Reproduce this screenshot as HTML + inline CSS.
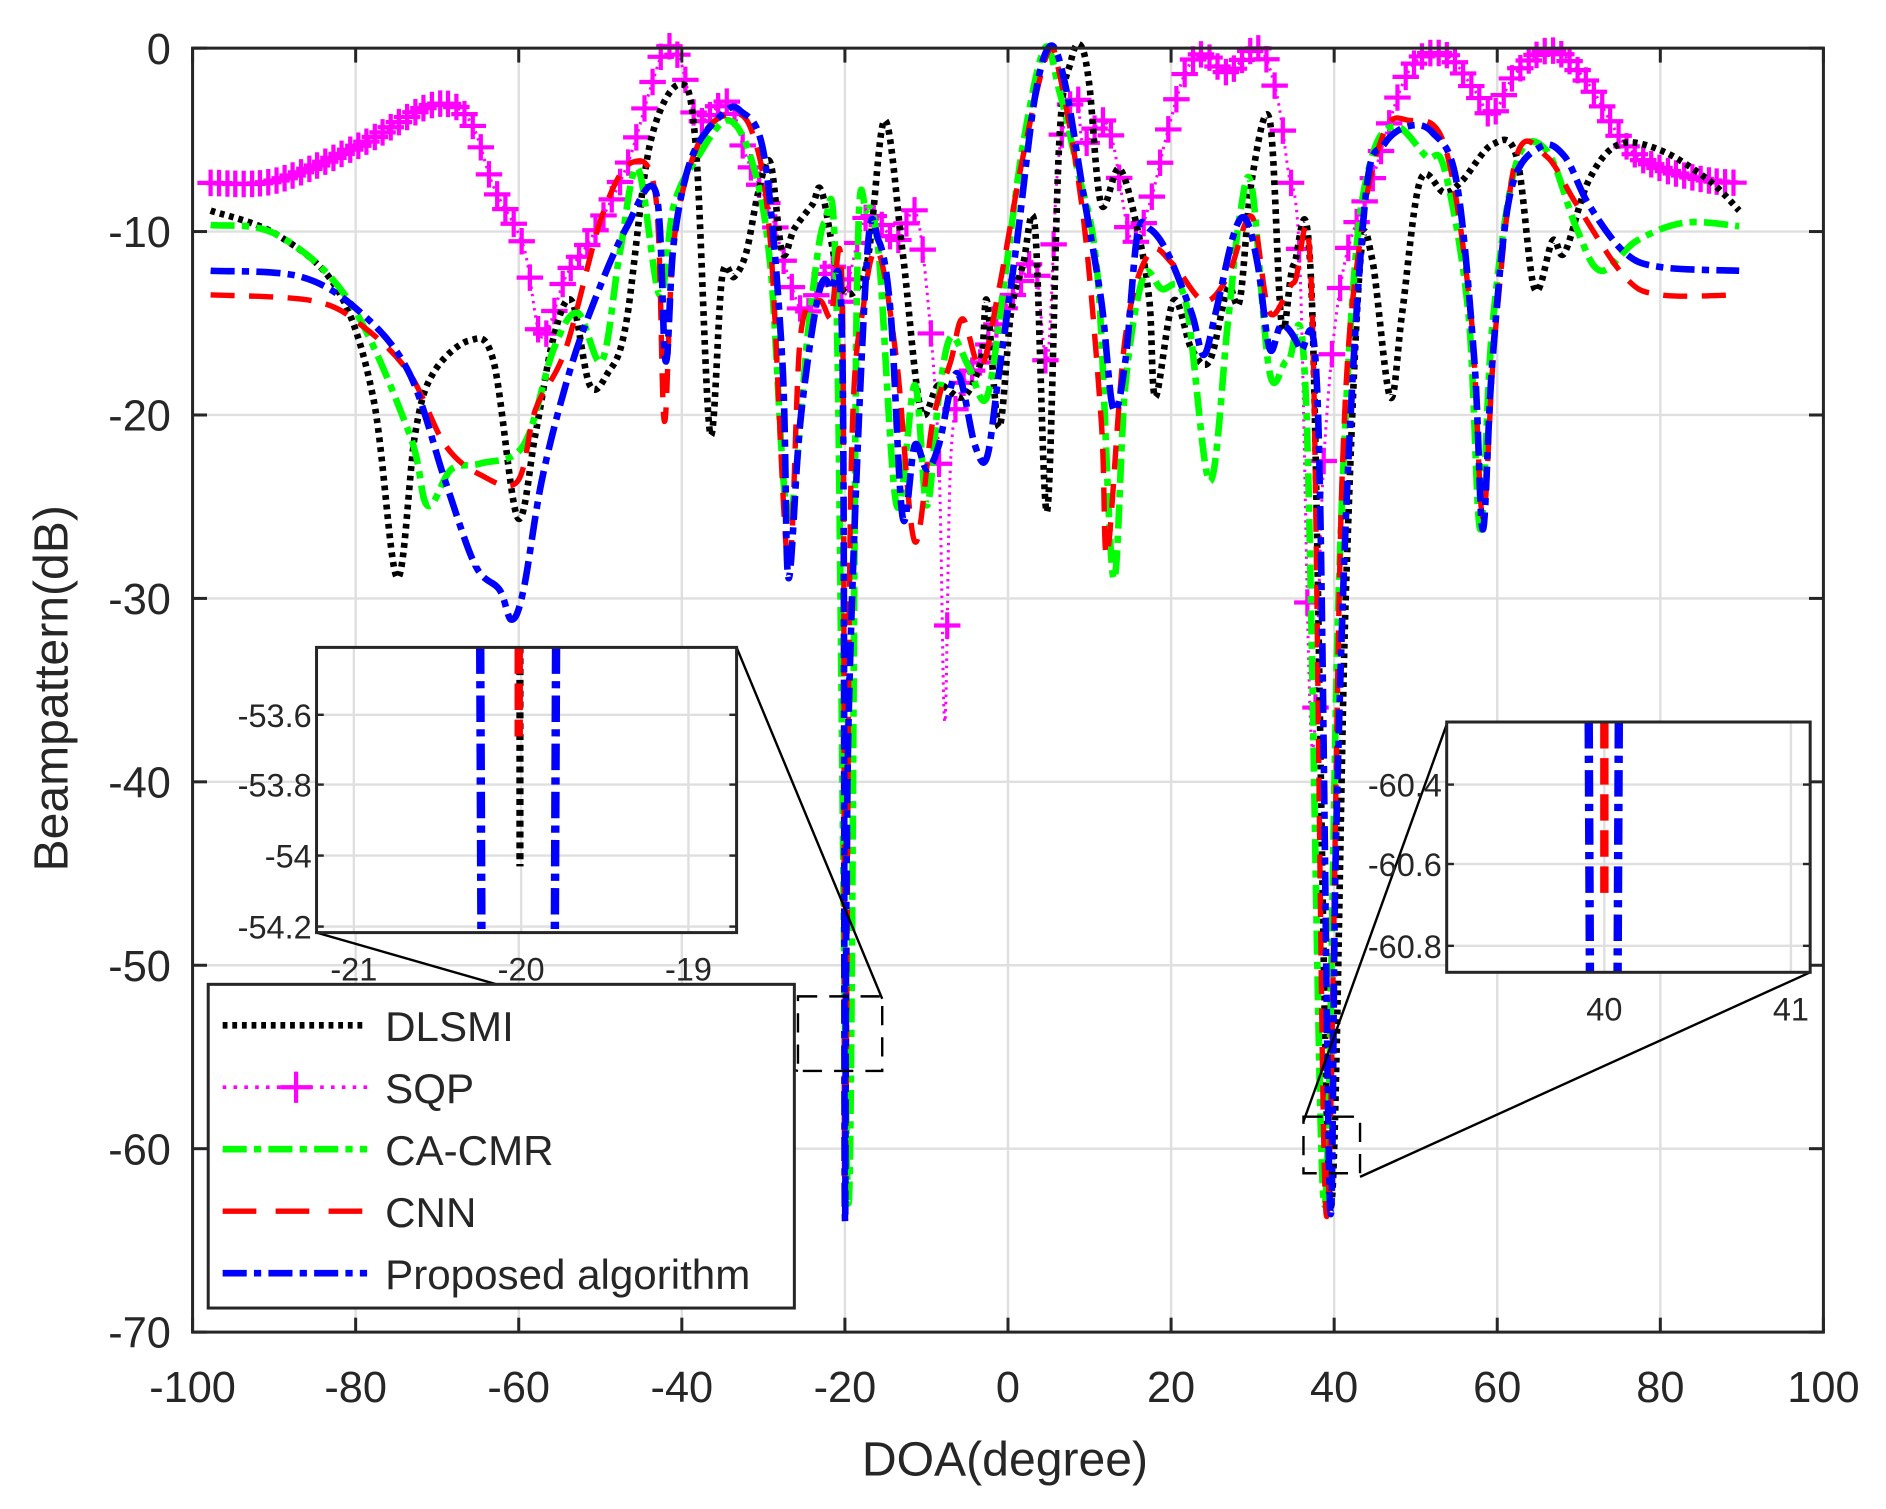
<!DOCTYPE html>
<html><head><meta charset="utf-8"><style>
html,body{margin:0;padding:0;background:#fff;}
svg{display:block;}
text{font-family:"Liberation Sans",sans-serif;fill:#262626;}
</style></head><body>
<svg id="s" width="1886" height="1509" viewBox="0 0 1567 1254" preserveAspectRatio="none" xmlns="http://www.w3.org/2000/svg">
<rect width="1567" height="1254" fill="#fff"/>
<g id="grid" stroke="#dfdfdf" stroke-width="2"></g>
<g id="curves" fill="none"></g>
<g id="axes"></g>
</svg>
<script>
var NS="http://www.w3.org/2000/svg";
function el(p,t,a,txt){var e=document.createElementNS(NS,t);for(var k in a)e.setAttribute(k,a[k]);if(txt!==undefined)e.textContent=txt;p.appendChild(e);return e;}
var s=document.getElementById('s'),G=document.getElementById('grid'),C=document.getElementById('curves'),A=document.getElementById('axes');
var L=160,R=1515,T=40,B=1107;
function X(v){return L+(v+100)/200*(R-L);} function Y(v){return T-v/70*(B-T);}
for(var v=-80;v<=80;v+=20){el(G,'line',{x1:X(v),x2:X(v),y1:T,y2:B});}
for(var v=-60;v<=-10;v+=10){el(G,'line',{x1:L,x2:R,y1:Y(v),y2:Y(v)});}
function path(pts){var d='M'+pts[0][0]+','+pts[0][1];for(var i=0;i<pts.length-1;i++){var p0=pts[i-1]||pts[i],p1=pts[i],p2=pts[i+1],p3=pts[i+2]||p2;var c1=[p1[0]+(p2[0]-p0[0])/6,p1[1]+(p2[1]-p0[1])/6],c2=[p2[0]-(p3[0]-p1[0])/6,p2[1]-(p3[1]-p1[1])/6];d+='C'+c1+' '+c2+' '+p2;}return d;}
function P(a){var r=[];for(var i=0;i<a.length;i+=2)r.push([a[i],a[i+1]]);return r;}
var black=P([175,175,230,195,280,240,310,330,330,480,345,360,360,310,390,283,410,300,430,430,445,360,460,280,475,250,490,320,505,310,520,270,540,120,565,70,578,120,590,360,600,230,610,230,620,210,630,160,640,135,650,210,660,190,675,170,683,160,700,240,720,220,735,100,750,210,765,340,780,320,800,330,815,300,820,250,830,355,840,260,850,220,860,190,870,425,880,120,890,50,898,38,905,70,915,170,930,140,945,190,955,250,960,330,975,250,990,290,1005,300,1020,240,1030,250,1040,150,1055,100,1065,270,1075,220,1090,250,1105,1000,1118,500,1130,220,1140,215,1155,330,1165,260,1180,150,1200,160,1215,150,1240,120,1260,130,1275,240,1290,200,1300,210,1320,150,1345,120,1380,125,1420,150,1445,175]);
var mag=P([175,152,230,150,300,120,360,87,390,100,410,155,435,205,450,280,470,230,490,200,520,140,540,75,553,40,565,50,580,100,605,85,620,130,640,175,655,230,670,260,690,220,700,250,720,180,745,200,760,175,770,240,780,380,785,600,790,380,800,320,815,300,830,265,845,240,860,220,870,300,878,150,885,100,895,80,900,120,915,100,925,120,940,200,955,170,970,110,985,60,1000,45,1020,60,1045,40,1060,75,1070,140,1080,220,1090,620,1100,380,1115,230,1140,150,1170,60,1200,45,1225,75,1240,95,1260,60,1290,42,1320,70,1350,120,1380,140,1420,150,1445,152]);
var green=P([175,187,230,195,290,250,340,360,355,420,375,390,400,385,435,370,460,290,480,260,500,300,515,210,530,140,548,245,560,170,580,130,605,100,625,135,640,220,655,430,672,270,685,185,695,250,705,1000,712,240,720,175,730,210,745,420,760,320,770,420,780,330,790,280,805,305,820,330,835,230,850,120,868,40,880,75,895,140,912,230,925,480,935,320,950,230,965,240,985,250,1005,400,1020,270,1030,180,1040,155,1055,310,1070,300,1085,330,1100,1000,1112,500,1125,230,1140,130,1160,105,1185,130,1200,140,1220,260,1230,440,1240,270,1260,135,1285,125,1310,190,1330,225,1360,200,1400,185,1445,188]);
var red=P([175,245,260,250,300,270,340,310,370,370,400,395,430,400,445,340,470,290,500,180,525,135,545,165,552,350,560,200,580,120,605,95,625,110,640,200,655,470,665,280,680,250,690,265,700,260,702,1010,707,400,718,250,730,210,745,300,760,450,775,350,790,300,800,265,815,305,830,240,850,130,870,45,880,60,900,180,915,350,920,460,935,280,955,210,975,220,1000,250,1020,230,1040,180,1055,260,1075,235,1090,250,1102,1010,1115,400,1130,200,1150,110,1170,100,1200,120,1222,260,1232,430,1242,280,1260,130,1285,130,1310,170,1350,230,1380,245,1445,245]);
var blue=P([175,225,250,230,300,260,340,310,370,400,395,470,415,490,425,515,435,490,450,400,470,320,490,260,520,190,545,160,553,300,560,200,575,130,600,95,615,92,635,130,650,300,655,480,665,350,680,245,690,240,700,300,702,1010,705,600,720,220,730,200,740,260,750,430,760,370,770,390,780,370,795,310,810,370,820,380,830,310,845,200,860,80,873,38,885,70,900,160,915,250,925,340,935,300,945,195,955,190,970,210,990,260,1000,295,1010,260,1025,195,1035,182,1045,220,1055,290,1065,270,1080,290,1095,340,1105,1000,1110,700,1120,390,1135,160,1150,120,1170,105,1190,110,1210,150,1225,300,1232,440,1240,300,1255,160,1280,122,1300,130,1320,170,1350,210,1380,222,1445,225]);
var mp=el(C,'path',{d:path(mag),stroke:'#ff00ff','stroke-width':2.5,'stroke-dasharray':'2 4'});
var len=mp.getTotalLength(),mk='',nx=175;for(var l=0;l<=len;l+=0.5){var q=mp.getPointAtLength(l);if(q.x>=nx){mk+='M'+(q.x-11)+','+q.y+'h22M'+q.x+','+(q.y-11)+'v22';nx+=6.8;}}
el(C,'path',{d:mk,stroke:'#ff00ff','stroke-width':3.5});
el(C,'path',{d:path(black),stroke:'#000','stroke-width':5.5,'stroke-dasharray':'4 4'});
el(C,'path',{d:path(green),stroke:'#00ff00','stroke-width':5.5,'stroke-dasharray':'20 6 6 6'});
el(C,'path',{d:path(red),stroke:'#ff0000','stroke-width':4.5,'stroke-dasharray':'20 12'});
el(C,'path',{d:path(blue),stroke:'#0000ff','stroke-width':5.5,'stroke-dasharray':'20 6 6 6'});
el(A,'rect',{x:L,y:T,width:R-L,height:B-T,fill:'none',stroke:'#262626','stroke-width':2.5});
for(var v=-100;v<=100;v+=20){var x=X(v);el(A,'line',{x1:x,x2:x,y1:B,y2:B-12,stroke:'#262626','stroke-width':2.5});el(A,'line',{x1:x,x2:x,y1:T,y2:T+12,stroke:'#262626','stroke-width':2.5});el(A,'text',{x:x,y:B+58,'font-size':36,'text-anchor':'middle'},v);}
for(var v=-70;v<=0;v+=10){var y=Y(v);el(A,'line',{x1:L,x2:L+12,y1:y,y2:y,stroke:'#262626','stroke-width':2.5});el(A,'line',{x1:R,x2:R-12,y1:y,y2:y,stroke:'#262626','stroke-width':2.5});el(A,'text',{x:L-18,y:y+13,'font-size':36,'text-anchor':'end'},v);}
el(A,'text',{x:835,y:1226,'font-size':40,'text-anchor':'middle'},'DOA(degree)');
el(A,'text',{x:0,y:0,'font-size':40,'text-anchor':'middle',transform:'translate(56,572) rotate(-90)'},'Beampattern(dB)');
el(A,'rect',{x:663,y:828,width:70,height:62,fill:'none',stroke:'#000','stroke-width':2,'stroke-dasharray':'16 10'});
el(A,'rect',{x:1083,y:928,width:47,height:47,fill:'none',stroke:'#000','stroke-width':2,'stroke-dasharray':'16 10'});
el(A,'line',{x1:612,y1:538,x2:733,y2:830,stroke:'#000','stroke-width':2});
el(A,'line',{x1:263,y1:775,x2:663,y2:890,stroke:'#000','stroke-width':2});
el(A,'line',{x1:1083,y1:932,x2:1202,y2:602,stroke:'#000','stroke-width':2});
el(A,'line',{x1:1130,y1:978,x2:1504,y2:808,stroke:'#000','stroke-width':2});
function inset(x0,y0,x1,y1,xt,yt,draw){el(A,'rect',{x:x0,y:y0,width:x1-x0,height:y1-y0,fill:'#fff',stroke:'none'});
xt.forEach(function(t){el(A,'line',{x1:t[0],x2:t[0],y1:y0,y2:y1,stroke:'#dfdfdf','stroke-width':2});el(A,'text',{x:t[0],y:y1+40,'font-size':27,'text-anchor':'middle'},t[1]);});
yt.forEach(function(t){el(A,'line',{x1:x0,x2:x1,y1:t[0],y2:t[0],stroke:'#dfdfdf','stroke-width':2});el(A,'line',{x1:x0,x2:x0+6,y1:t[0],y2:t[0],stroke:'#262626','stroke-width':2});el(A,'line',{x1:x1,x2:x1-6,y1:t[0],y2:t[0],stroke:'#262626','stroke-width':2});el(A,'text',{x:x0-4,y:t[0]+10,'font-size':27,'text-anchor':'end'},t[1]);});
draw();el(A,'rect',{x:x0,y:y0,width:x1-x0,height:y1-y0,fill:'none',stroke:'#262626','stroke-width':2.5});}
inset(263,538,612,775,[[294,'-21'],[433,'-20'],[572,'-19']],[[594,'-53.6'],[652,'-53.8'],[711,'-54'],[770,'-54.2']],function(){
el(A,'line',{x1:432,x2:432,y1:538,y2:720,stroke:'#000','stroke-width':6,'stroke-dasharray':'5 4'});
el(A,'line',{x1:431,x2:431,y1:538,y2:612,stroke:'#f00','stroke-width':7,'stroke-dasharray':'22 8'});
el(A,'line',{x1:399,x2:400,y1:538,y2:775,stroke:'#00f','stroke-width':7,'stroke-dasharray':'22 6 6 6'});
el(A,'line',{x1:462,x2:461,y1:538,y2:775,stroke:'#00f','stroke-width':7,'stroke-dasharray':'22 6 6 6'});});
inset(1202,600,1504,808,[[1333,'40'],[1488,'41']],[[652,'-60.4'],[718,'-60.6'],[786,'-60.8']],function(){
el(A,'line',{x1:1333,x2:1333,y1:600,y2:745,stroke:'#f00','stroke-width':7,'stroke-dasharray':'22 8'});
el(A,'line',{x1:1320,x2:1321,y1:600,y2:808,stroke:'#00f','stroke-width':7,'stroke-dasharray':'22 6 6 6'});
el(A,'line',{x1:1345,x2:1344,y1:600,y2:808,stroke:'#00f','stroke-width':7,'stroke-dasharray':'22 6 6 6'});});
el(A,'rect',{x:173,y:818,width:487,height:269,fill:'#fff',stroke:'#262626','stroke-width':2.5});
var lg=[['DLSMI','#000','4 4',5.5],['SQP','#ff00ff','3 6',3],['CA-CMR','#00ff00','20 6 6 6',5.5],['CNN','#ff0000','28 16',4.5],['Proposed algorithm','#0000ff','20 6 6 6',5.5]];
lg.forEach(function(e,i){var y=852+i*51.5;el(A,'line',{x1:185,x2:305,y1:y,y2:y,stroke:e[1],'stroke-width':e[3],'stroke-dasharray':e[2]});
if(i==1){el(A,'path',{d:'M233,'+y+'h26M246,'+(y-13)+'v26',stroke:'#ff00ff','stroke-width':3.5});}
el(A,'text',{x:320,y:y+13,'font-size':35,fill:'#000'},e[0]);});
</script>
</body></html>
